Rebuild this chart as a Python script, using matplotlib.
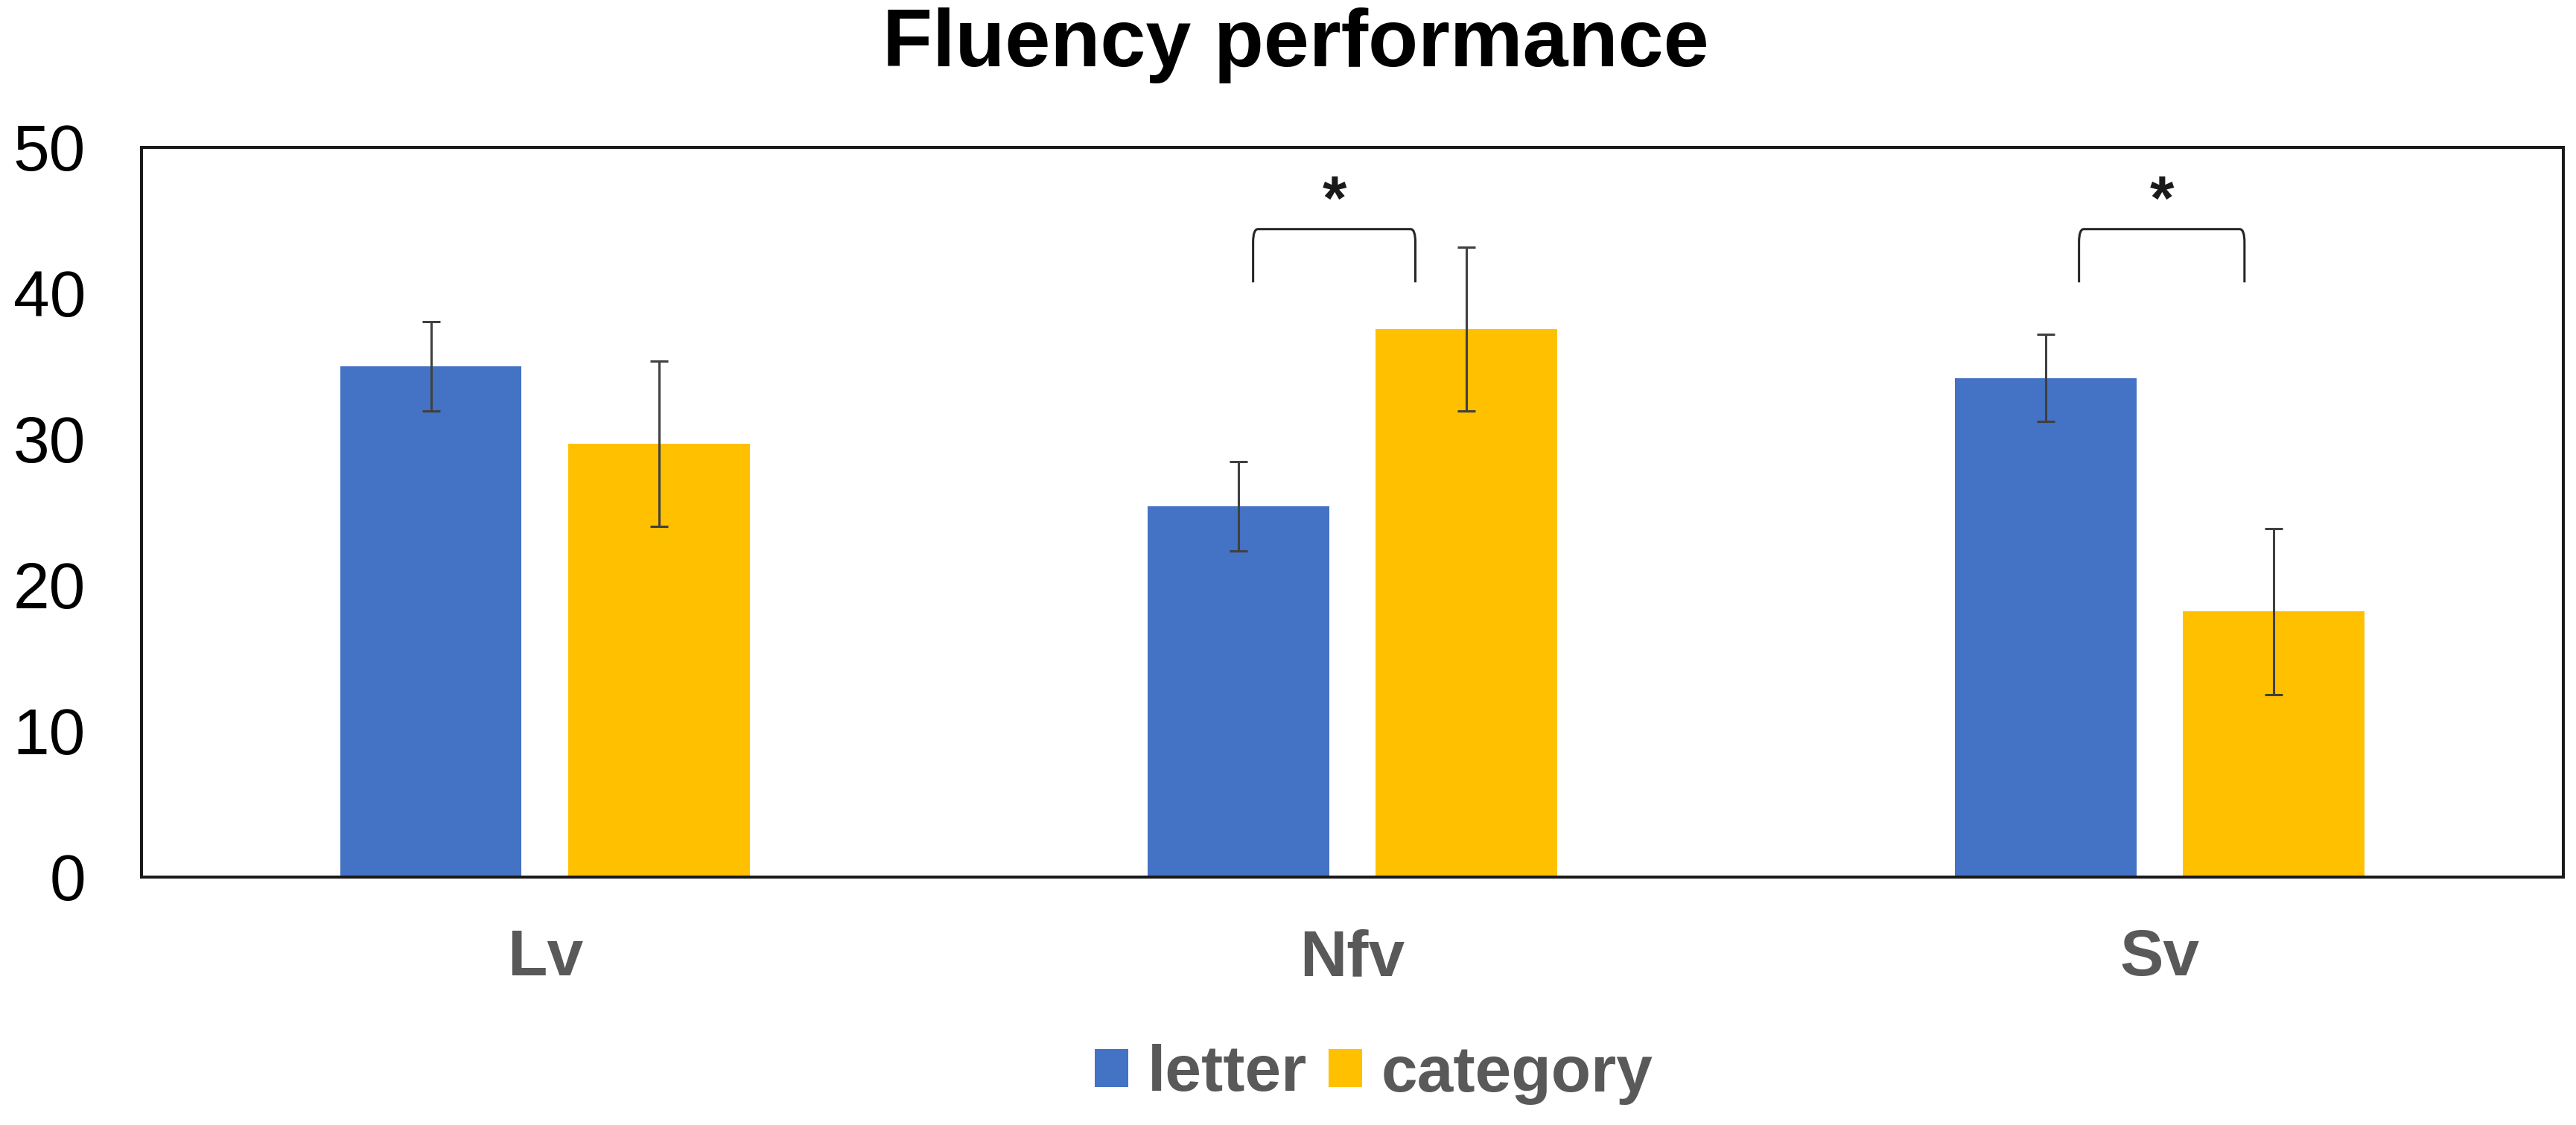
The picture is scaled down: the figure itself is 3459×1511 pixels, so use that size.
import matplotlib
matplotlib.use("Agg")
import matplotlib.pyplot as plt
from matplotlib.path import Path
from matplotlib.patches import PathPatch
import numpy as np

# data
categories = ["Lv", "Nfv", "Sv"]
letter_mean = [35.0, 25.4, 34.2]
letter_err = [3.05, 3.05, 3.0]
category_mean = [29.7, 37.55, 18.2]
category_err = [5.65, 5.6, 5.7]
series_names = ["letter", "category"]
y_ticks = [0, 10, 20, 30, 40, 50]
# significance brackets: (category index, label)
sig_pairs = [(1, "*"), (2, "*")]

BLUE = "#4472C4"
YELLOW = "#FFC000"
GREY = "#595959"

plt.rcParams["font.family"] = ["Liberation Sans", "DejaVu Sans"]

DPI = 100
fig = plt.figure(figsize=(34.59, 15.11), dpi=DPI)
ax = fig.add_axes([0.0549, 0.2204, 0.9402, 0.6486])

x = np.arange(len(categories))
width = 0.225
offset = 0.1415

err_kw = dict(ecolor="#404040", elinewidth=2.2, capsize=8.3, capthick=2.2)
b1 = ax.bar(x - offset, letter_mean, width, color=BLUE, label=series_names[0],
            yerr=letter_err, error_kw=err_kw, zorder=2)
b2 = ax.bar(x + offset, category_mean, width, color=YELLOW, label=series_names[1],
            yerr=category_err, error_kw=err_kw, zorder=2)


def bracket(ax, x0, x1, y_top, y_tip):
    # bracket with slightly rounded corners
    rx, ry = 0.006, 0.9
    verts = [(x0, y_tip), (x0, y_top - ry), (x0, y_top), (x0 + rx, y_top),
             (x1 - rx, y_top), (x1, y_top), (x1, y_top - ry), (x1, y_tip)]
    codes = [Path.MOVETO, Path.LINETO, Path.CURVE3, Path.CURVE3,
             Path.LINETO, Path.CURVE3, Path.CURVE3, Path.LINETO]
    ax.add_patch(PathPatch(Path(verts, codes), fill=False, edgecolor="#262626",
                           lw=2.2, zorder=3))


# significance brackets
for idx, lab in sig_pairs:
    if idx == 1:
        x0, x1 = idx - 0.123, idx + 0.078
    else:
        x0, x1 = idx - 0.100, idx + 0.105
    bracket(ax, x0, x1, 44.4, 40.75)
    ax.text((x0 + x1) / 2, 46.2, lab, ha="center", va="center", fontsize=60,
            fontweight="bold", color="#1a1a1a")

ax.set_xlim(-0.5, len(categories) - 0.5)
ax.set_ylim(0, 50)
ax.set_yticks(y_ticks)
ax.set_yticklabels([str(t) for t in y_ticks], fontsize=63, color="black")
ax.set_xticks(x)
ax.set_xticklabels(categories, fontsize=63, fontweight="bold", color=GREY)
ax.tick_params(axis="y", length=0, pad=54)
ax.tick_params(axis="x", length=0, pad=50)
for sp in ax.spines.values():
    sp.set_linewidth(2.9)
    sp.set_color("#1a1a1a")

fig.text(0.503, 1 - 10 / 1511, "Fluency performance", ha="center", va="top",
         fontsize=79, fontweight="bold", color="black")

leg = fig.legend(handles=[b1, b2], labels=series_names, loc="center",
                 bbox_to_anchor=(1845 / 3459, 1 - 1443 / 1511), ncol=2,
                 frameon=False, fontsize=63, handlelength=0.51, handleheight=0.52,
                 handletextpad=0.3, columnspacing=0.33)
for t in leg.get_texts():
    t.set_color(GREY)
    t.set_fontweight("bold")

fig.savefig("out.png", dpi=DPI, facecolor="white")
